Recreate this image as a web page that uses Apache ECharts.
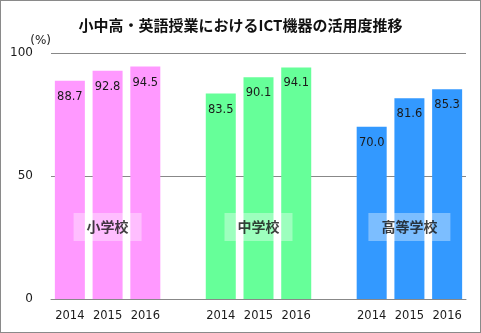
<!DOCTYPE html>
<html><head><meta charset="utf-8">
<script src="https://cdn.jsdelivr.net/npm/echarts@6/dist/echarts.min.js"></script>
<style>
html,body{margin:0;padding:0;background:#fff;}
#c{width:481px;height:333px;box-sizing:border-box;border:1px solid #8a8a8a;}
</style></head>
<body><div id="c"></div>
<script>
const titleText = '小中高・英語授業におけるICT機器の活用度推移';
const years = ['2014', '2015', '2016'];
const schools = ['小学校', '中学校', '高等学校'];
const elementary = [88.7, 92.8, 94.5];
const juniorHigh = [83.5, 90.1, 94.1];
const highSchool = [70.0, 81.6, 85.3];
const yTicks = [0, 50, 100];
const colors = ['#ff99ff', '#66ff99', '#3399ff'];

const groups = [elementary, juniorHigh, highSchool];
const categories = [];
groups.forEach((g, gi) => {
  years.forEach(y => categories.push(y));
  if (gi < groups.length - 1) categories.push('');
});
const slotOf = (gi, i) => gi * (years.length + 1) + i;

const barSeries = groups.map((g, gi) => {
  const d = categories.map(() => null);
  g.forEach((v, i) => { d[slotOf(gi, i)] = v; });
  return {
    type: 'bar', name: schools[gi], data: d, barWidth: 30, barGap: '-100%',
    itemStyle: { color: colors[gi] },
    label: { show: true, position: 'insideTop', distance: 10, color: '#1a1a1a',
      fontFamily: 'DejaVu Sans', fontSize: 11.5,
      formatter: p => (p.value == null ? '' : Number(p.value).toFixed(1)) },
    z: 2
  };
});

const labelLevel = 29.3;
const groupLabelData = schools.map((s, gi) => ({ value: [slotOf(gi, 1), labelLevel], name: s }));

const chart = echarts.init(document.getElementById('c'));
chart.setOption({
  animation: false,
  title: { text: titleText, left: 'center', top: 12,
    textStyle: { fontFamily: 'Noto Sans CJK JP', fontSize: 15, fontWeight: 'bold', color: '#111' } },
  grid: { left: 50, right: 14, top: 52, bottom: 33 },
  xAxis: { type: 'category', data: categories,
    axisLine: { lineStyle: { color: '#888', width: 1 } }, axisTick: { show: false },
    axisLabel: { color: '#1a1a1a', fontFamily: 'DejaVu Sans', fontSize: 11.5, margin: 11, interval: 0 } },
  yAxis: { type: 'value', min: 0, max: 100, interval: 50,
    name: '(%)', nameLocation: 'end', nameGap: 5,
    nameTextStyle: { color: '#1a1a1a', fontFamily: 'DejaVu Sans', fontSize: 12, align: 'right' },
    axisLine: { show: false }, axisTick: { show: false },
    splitLine: { lineStyle: { color: '#888', width: 1 } },
    axisLabel: { color: '#1a1a1a', fontFamily: 'DejaVu Sans', fontSize: 12, margin: 18,
      formatter: v => (yTicks.includes(v) ? String(v) : '') } },
  series: barSeries.concat([{
    type: 'scatter', data: groupLabelData, symbolSize: 0, z: 5,
    label: { show: true, position: 'inside', formatter: p => p.name,
      fontFamily: 'Noto Sans CJK JP', fontSize: 14, fontWeight: 'bold', color: '#111',
      backgroundColor: 'rgba(255,255,255,0.45)', padding: [7, 13, 7, 13] }
  }])
});
</script></body></html>
